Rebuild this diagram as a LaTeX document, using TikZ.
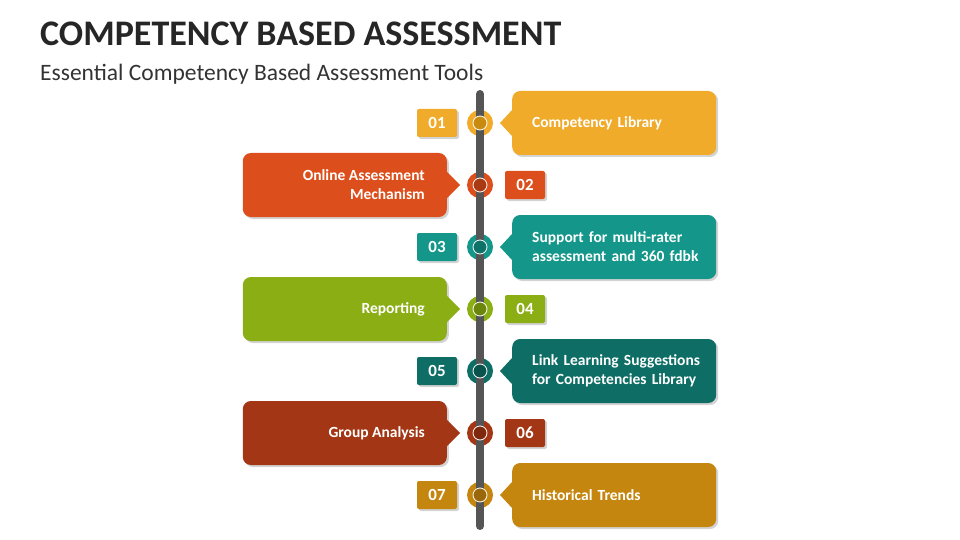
\documentclass[tikz,border=0pt]{standalone}
\usepackage{fontspec}
\setmainfont{Carlito}
\usetikzlibrary{shadows}
\definecolor{c1}{HTML}{F0AB2B}\definecolor{d1}{HTML}{C98A10}
\definecolor{c2}{HTML}{DC4E1C}\definecolor{d2}{HTML}{A93A14}
\definecolor{c3}{HTML}{14968A}\definecolor{d3}{HTML}{0E7268}
\definecolor{c4}{HTML}{8AAE14}\definecolor{d4}{HTML}{6A870C}
\definecolor{c5}{HTML}{0E6E66}\definecolor{d5}{HTML}{0A524C}
\definecolor{c6}{HTML}{A33614}\definecolor{d6}{HTML}{7E280E}
\definecolor{c7}{HTML}{C4860F}\definecolor{d7}{HTML}{9A680A}
\definecolor{bar}{HTML}{555555}
\tikzset{
 sh/.style={drop shadow={shadow xshift=2pt,shadow yshift=-2pt,opacity=.35,fill=gray}},
 card/.style={rounded corners=8pt,minimum width=204pt,minimum height=64pt,text=white,font=\fontsize{15.5}{19}\selectfont\bfseries,sh,inner sep=0pt},
 tag/.style={rounded corners=2pt,minimum width=40pt,minimum height=28pt,text=white,font=\fontsize{17}{20}\selectfont\bfseries,sh,inner sep=0pt},
 dot/.style={circle,minimum size=26pt,inner sep=0pt},
 idot/.style={circle,minimum size=14pt,inner sep=0pt,draw=white,line width=0.8pt},
}
\begin{document}
\begin{tikzpicture}[x=1pt,y=-1pt]
\useasboundingbox (0,0) rectangle (960,540);
\node[anchor=base west,font=\fontsize{36}{42}\selectfont\bfseries,text=black!85,inner sep=0pt] (title) at (40,46) {COMPETENCY BASED ASSESSMENT};
\node[anchor=base west,font=\fontsize{23.5}{28}\selectfont,text=black!80,inner sep=0pt] (sub) at (40,81) {Essential Competency Based Assessment Tools};
\coordinate (btop) at (480,94);
\coordinate (bbot) at (480,526);
\draw[bar,line width=8pt,line cap=round] (btop) -- (bbot);
\foreach \i/\y/\side/\txt in {1/123/R/Competency Library,
 2/185/L/{Online Assessment\\Mechanism},
 3/247/R/{Support for multi-rater\\assessment and 360 fdbk},
 4/309/L/Reporting,
 5/371/R/{Link Learning Suggestions\\for Competencies Library},
 6/433/L/Group Analysis,
 7/495/R/Historical Trends}{
 \node[dot,fill=c\i] (o\i) at (480,\y) {};
 \draw[bar,line width=8pt] (480,\y-13) -- (480,\y+13);
 \node[idot,fill=d\i] (i\i) at (480,\y) {};
 \if\side R
  \node[card,fill=c\i,anchor=west,align=left,text width=184pt] (b\i) at (512,\y) {\hspace*{10pt}\parbox{180pt}{\raggedright\txt}};
  \fill[c\i] (b\i.west) ++(0,-13) -- (500,\y) -- (512,\y+13) -- cycle;
  \node[tag,fill=c\i] (t\i) at (437,\y) {0\i};
 \else
  \node[card,fill=c\i,anchor=east,align=right] (b\i) at (447,\y) {\parbox{182pt}{\raggedleft\txt}\hspace*{22pt}};
  \fill[c\i] (b\i.east) ++(0,-13) -- (460,\y) -- (447,\y+13) -- cycle;
  \node[tag,fill=c\i] (t\i) at (525,\y) {0\i};
 \fi
}
\end{tikzpicture}
\end{document}
